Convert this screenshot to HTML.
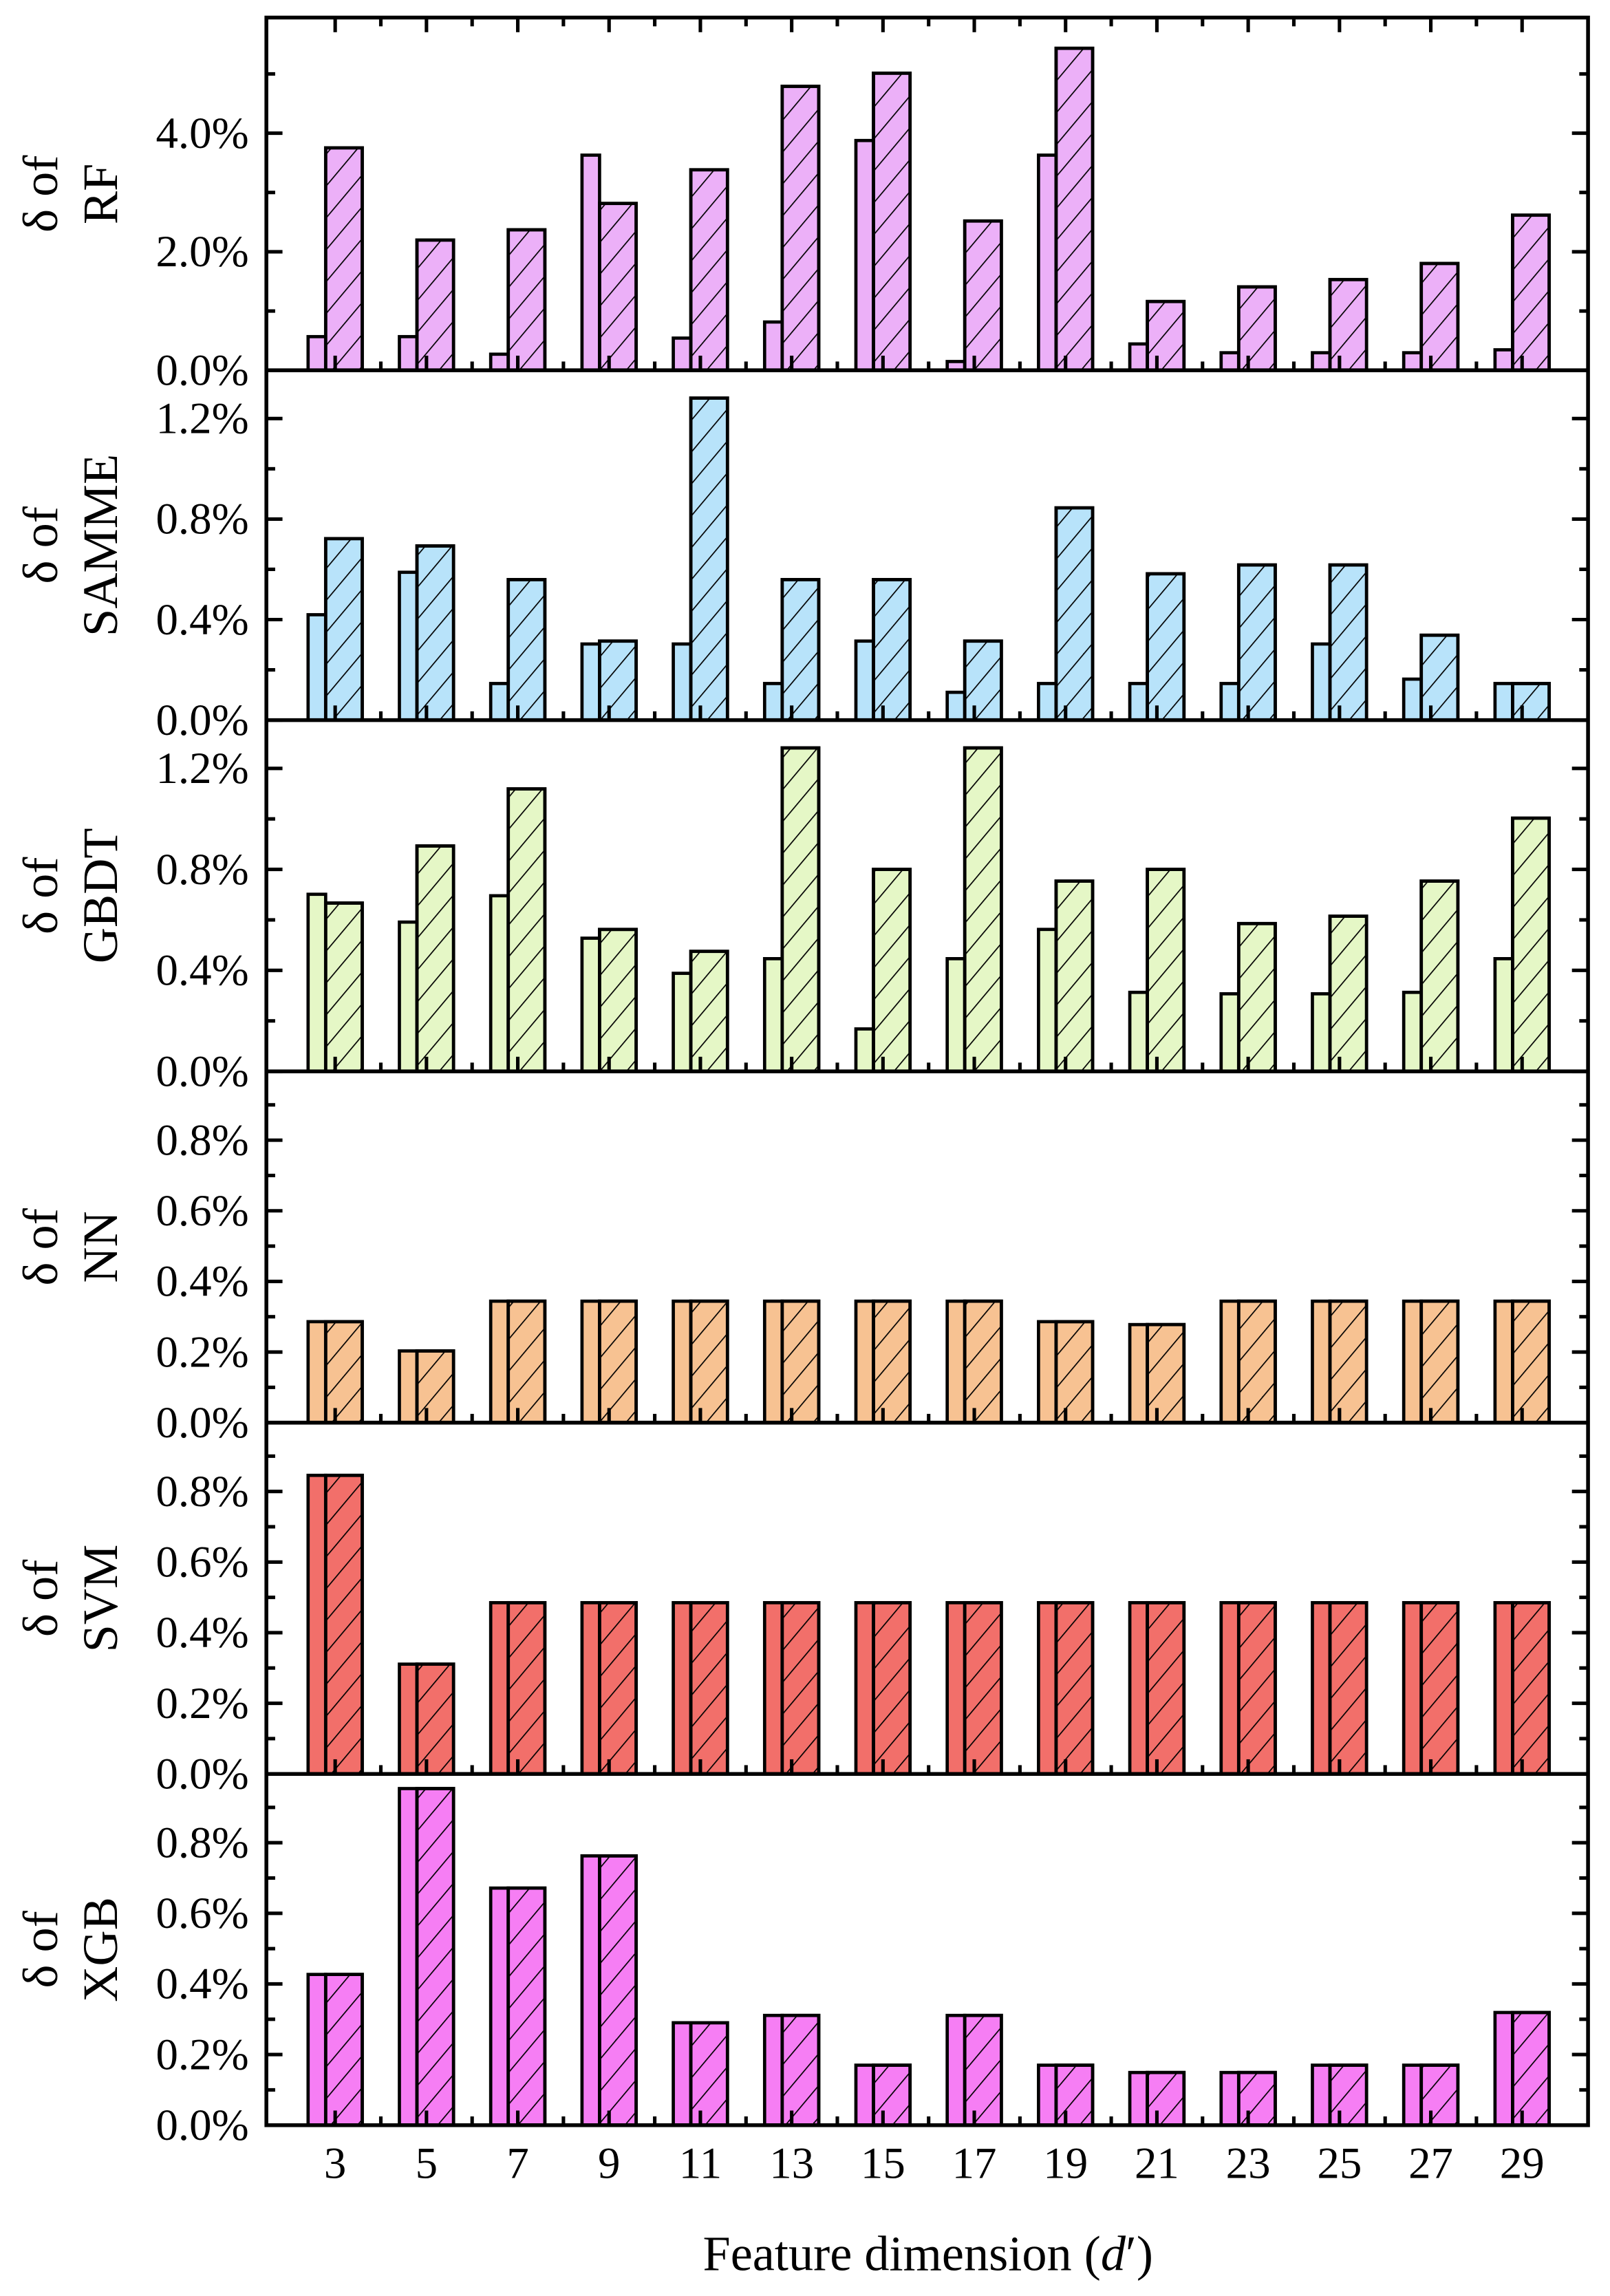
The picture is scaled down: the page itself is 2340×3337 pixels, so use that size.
<!DOCTYPE html>
<html><head><meta charset="utf-8"><style>html,body{margin:0;padding:0;background:#fff}svg{display:block}</style></head>
<body>
<svg id="s" width="2340" height="3337" viewBox="0 0 1100 1568.7" preserveAspectRatio="none" xmlns="http://www.w3.org/2000/svg" font-family="'Liberation Serif', serif">
<defs>
<pattern id="h" patternUnits="userSpaceOnUse" width="14" height="14" patternTransform="rotate(40)">
<line x1="0" y1="0" x2="0" y2="14" stroke="#000" stroke-width="1.6"/>
</pattern>
</defs>
<g id="g"></g>
</svg>
<script>
const L=182,R=1085,cx=i=>229+i*62.38;
const panels=[
 {name:"RF",top:12,bot:253,col:"#ecb0f8",ticks:[[0,"0.0%"],[2,"2.0%"],[4,"4.0%"]],minor:[1,3,5],per:40.5,
  d:[[230,101],[230,164],[242,157],[106,139],[231,116],[220,59],[96,50],[247,151],[106,33],[235,206],[241,196],[241,191],[241,180],[239,147]]},
 {name:"SAMME",top:253,bot:492,col:"#b8e3fa",ticks:[[0,"0.0%"],[0.4,"0.4%"],[0.8,"0.8%"],[1.2,"1.2%"]],minor:[0.2,0.6,1.0],per:171.7,
  d:[[420,368],[391,373],[467,396],[440,438],[440,272],[467,396],[438,396],[473,438],[467,347],[467,392],[467,386],[440,386],[464,434],[467,467]]},
 {name:"GBDT",top:492,bot:732,col:"#e5f7c6",ticks:[[0,"0.0%"],[0.4,"0.4%"],[0.8,"0.8%"],[1.2,"1.2%"]],minor:[0.2,0.6,1.0],per:172.5,
  d:[[611,617],[630,578],[612,539],[641,635],[665,650],[655,511],[703,594],[655,511],[635,602],[678,594],[679,631],[679,626],[678,602],[655,559]]},
 {name:"NN",top:732,bot:972,col:"#f7c292",ticks:[[0,"0.0%"],[0.2,"0.2%"],[0.4,"0.4%"],[0.6,"0.6%"],[0.8,"0.8%"]],minor:[0.1,0.3,0.5,0.7,0.9],per:241.25,
  d:[903,923,889,889,889,889,889,889,903,905,889,889,889,889].map(v=>[v,v])},
 {name:"SVM",top:972,bot:1212,col:"#f26f6a",ticks:[[0,"0.0%"],[0.2,"0.2%"],[0.4,"0.4%"],[0.6,"0.6%"],[0.8,"0.8%"]],minor:[0.1,0.3,0.5,0.7,0.9],per:241.25,
  d:[1008,1137,1095,1095,1095,1095,1095,1095,1095,1095,1095,1095,1095,1095].map(v=>[v,v])},
 {name:"XGB",top:1212,bot:1452,col:"#f67ef4",ticks:[[0,"0.0%"],[0.2,"0.2%"],[0.4,"0.4%"],[0.6,"0.6%"],[0.8,"0.8%"]],minor:[0.1,0.3,0.5,0.7,0.9],per:241.25,
  d:[1349,1222,1290,1268,1382,1377,1411,1377,1411,1416,1416,1411,1411,1375].map(v=>[v,v])}
];
let s="";
for(const p of panels){
 p.d.forEach((v,i)=>{const c=cx(i);
  s+=`<rect x="${c-18.5}" y="${v[0]}" width="12" height="${p.bot-v[0]}" fill="${p.col}" stroke="#000" stroke-width="2.2"/>`;
  s+=`<rect x="${c-6.5}" y="${v[1]}" width="25" height="${p.bot-v[1]}" fill="${p.col}" stroke="#000" stroke-width="2.2"/>`;
  s+=`<rect x="${c-6.5}" y="${v[1]}" width="25" height="${p.bot-v[1]}" fill="url(#h)" stroke="#000" stroke-width="2.2"/>`;
 });
 for(const [v,t] of p.ticks){const y=p.bot-v*p.per;
  s+=`<line x1="${L}" y1="${y}" x2="${L+11}" y2="${y}" stroke="#000" stroke-width="2.4"/>`;
  s+=`<line x1="${R}" y1="${y}" x2="${R-11}" y2="${y}" stroke="#000" stroke-width="2.4"/>`;
  s+=`<text x="170" y="${y+10}" font-size="30.5" text-anchor="end">${t}</text>`;}
 for(const v of p.minor){const y=p.bot-v*p.per; if(y<p.top+2)continue;
  s+=`<line x1="${L}" y1="${y}" x2="${L+6}" y2="${y}" stroke="#000" stroke-width="2.4"/>`;
  s+=`<line x1="${R}" y1="${y}" x2="${R-6}" y2="${y}" stroke="#000" stroke-width="2.4"/>`;}
 for(let i=0;i<14;i++){const c=cx(i);
  s+=`<line x1="${c}" y1="${p.bot}" x2="${c}" y2="${p.bot-10}" stroke="#000" stroke-width="2.4"/>`;
  if(i<13){const m=c+31.19;s+=`<line x1="${m}" y1="${p.bot}" x2="${m}" y2="${p.bot-6}" stroke="#000" stroke-width="2.4"/>`;}
 }
 const mid=(p.top+p.bot)/2;
 s+=`<text transform="translate(39,${mid}) rotate(-90)" font-size="34" text-anchor="middle">δ of</text>`;
 s+=`<text transform="translate(80,${mid}) rotate(-90)" font-size="34" text-anchor="middle">${p.name}</text>`;
 s+=`<line x1="${L}" y1="${p.bot}" x2="${R}" y2="${p.bot}" stroke="#000" stroke-width="2.6"/>`;
}
for(let i=0;i<14;i++){const c=cx(i);
 s+=`<line x1="${c}" y1="12" x2="${c}" y2="22" stroke="#000" stroke-width="2.4"/>`;
 if(i<13){const m=c+31.19;s+=`<line x1="${m}" y1="12" x2="${m}" y2="18" stroke="#000" stroke-width="2.4"/>`;}
 s+=`<text x="${c}" y="1488" font-size="30.5" text-anchor="middle">${3+2*i}</text>`;
}
s+=`<rect x="${L}" y="12" width="${R-L}" height="1440" fill="none" stroke="#000" stroke-width="2.6"/>`;
s+=`<text x="634" y="1551" font-size="34" text-anchor="middle">Feature dimension (<tspan font-style="italic">d</tspan>′)</text>`;
document.getElementById("g").innerHTML=s;
</script>
</body></html>
